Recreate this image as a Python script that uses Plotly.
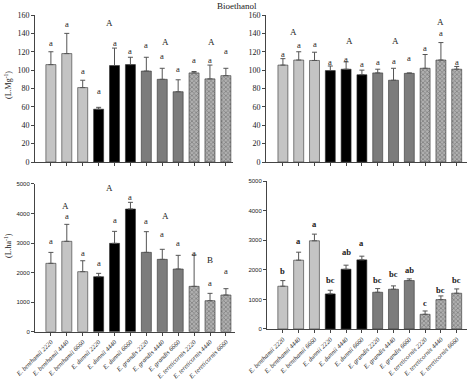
import plotly.graph_objects as go

categories = ["E. benthamii 2220", "E. benthamii 4440", "E. benthamii 6660",
              "E. dunnii 2220", "E. dunnii 4440", "E. dunnii 6660",
              "E. grandis 2220", "E. grandis 4440", "E. grandis 6660",
              "E. tereticornis 2220", "E. tereticornis 4440", "E. tereticornis 6660"]

# Top-left: L.Mg-1
tl_vals = [106, 118, 81, 57.5, 105, 106, 99, 90, 76.5, 97, 90.5, 94]
tl_err = [14, 22, 8, 2, 19, 8, 15, 12, 13, 1.5, 15, 8]
tl_letters = ["a"] * 12
tl_letter_y = [129, 150, 99, 77, 130, 121, 127, 115, 101, 111, 111, 121]
tl_groups = ["A", "A", "A", "A"]
tl_group_x = [0.9, 3.7, 7.2, 10.1]
tl_group_y = [161, 151, 131, 131]

# Top-right: L.Mg-1
tr_vals = [105.5, 111, 110.5, 99.5, 101, 95, 97, 89, 96.5, 102, 111, 101]
tr_err = [7, 9, 9, 5, 8, 5, 4, 13, 0.5, 15, 19, 3]
tr_letters = ["a"] * 12
tr_letter_y = [118, 127, 128, 109, 112, 107, 109, 110, 113, 124, 140, 109]
tr_groups = ["A", "A", "A", "A"]
tr_group_x = [0.7, 4.2, 7.1, 10.0]
tr_group_y = [142, 132, 132, 152]

# Bottom-left: L.ha-1
bl_vals = [2314, 3059, 2032, 1862, 2991, 4153, 2686, 2449, 2122, 1535, 1050, 1242]
bl_err = [370, 575, 370, 113, 406, 226, 700, 340, 463, 1061, 248, 214]
bl_letters = ["a"] * 12
bl_letter_y = [3070, 3916, 2675, 2314, 3781, 4549, 3747, 3296, 2991, 2675, 1637, 2065]
bl_groups = ["A", "A", "A", "B"]
bl_group_x = [0.9, 3.7, 7.2, 10.0]
bl_group_y = [4255, 4876, 3916, 2415]

# Bottom-right: L.ha-1
br_vals = [1445, 2325, 2980, 1185, 2020, 2336, 1241, 1343, 1637, 497, 993, 1208]
br_err = [190, 270, 225, 124, 136, 124, 125, 113, 56, 112, 124, 146]
br_letters = ["b", "a", "a", "bc", "ab", "a", "bc", "bc", "ab", "c", "bc", "bc"]
br_letter_y = [1975, 2980, 3544, 1659, 2596, 2900, 1659, 1851, 1998, 869, 1320, 1659]

top_ticks = [0, 20, 40, 60, 80, 100, 120, 140, 160]
bottom_ticks = [0, 1000, 2000, 3000, 4000, 5000]

fills = ["#c4c4c4"] * 3 + ["#000000"] * 3 + ["#7c7c7c"] * 3 + ["#b0b0b0"] * 3
patterns = [""] * 9 + ["x"] * 3

SERIF = "Liberation Serif"
SANS = "Liberation Sans"

fig = go.Figure()

panels = [
    ("x", "y", tl_vals, tl_err),
    ("x2", "y2", tr_vals, tr_err),
    ("x3", "y3", bl_vals, bl_err),
    ("x4", "y4", br_vals, br_err),
]
idx = list(range(len(categories)))
for xa, ya, vals, err in panels:
    fig.add_trace(go.Bar(
        x=idx, y=vals, xaxis=xa, yaxis=ya,
        marker=dict(color=fills, line=dict(color="#333333", width=0.6),
                    pattern=dict(shape=patterns, fgcolor="#4a4a4a", bgcolor="#b4b4b4",
                                 size=3, solidity=0.4)),
        error_y=dict(type="data", array=err, arrayminus=[0] * len(err), symmetric=False,
                     color="#555555", thickness=1, width=2.5),
        showlegend=False, hoverinfo="skip",
    ))

def xaxis(domain, rng, anchor, labels):
    d = dict(domain=domain, range=rng, anchor=anchor, showgrid=False, zeroline=False,
             showline=True, linecolor="#444444", linewidth=1, automargin=False,
             ticks="outside", ticklen=3, tickcolor="#444444",
             tickvals=idx, fixedrange=True)
    if labels:
        d.update(ticktext=["<i>" + c + "</i>" for c in categories], tickangle=-45,
                 tickfont=dict(family=SERIF, size=6.5, color="#222222"))
    else:
        d.update(showticklabels=False)
    return d

def yaxis(domain, rng, anchor, ticks, fsize, family):
    return dict(domain=domain, range=rng, anchor=anchor, showgrid=False, zeroline=False,
                showline=True, linecolor="#444444", linewidth=1, automargin=False,
                ticks="outside", ticklen=3, tickcolor="#444444",
                tickvals=ticks, tickfont=dict(family=family, size=fsize, color="#222222"),
                fixedrange=True)

fig.update_layout(
    width=474, height=381, autosize=False,
    margin=dict(l=0, r=0, t=0, b=0, pad=0),
    paper_bgcolor="white", plot_bgcolor="white",
    bargap=0.37,
    xaxis=xaxis([0.0738, 0.4916], [-1.0, 11.45], "y", False),
    yaxis=yaxis([0.5748, 0.9606], [0, 160], "x", top_ticks, 8, SERIF),
    xaxis2=xaxis([0.5612, 0.9852], [-1.07, 11.65], "y2", False),
    yaxis2=yaxis([0.5748, 0.9606], [0, 160], "x2", top_ticks, 8, SERIF),
    xaxis3=xaxis([0.0738, 0.4958], [-1.0, 11.57], "y3", True),
    yaxis3=yaxis([0.1294, 0.5171], [0, 5000], "x3", bottom_ticks, 6, SANS),
    xaxis4=xaxis([0.5633, 0.9852], [-1.0, 11.65], "y4", True),
    yaxis4=yaxis([0.1365, 0.5249], [0, 5000], "x4", bottom_ticks, 6, SANS),
)

ann = []
def add_letters(xref, yref, ys, texts, size, bold=False, family=SERIF):
    for i, (yv, t) in enumerate(zip(ys, texts)):
        ann.append(dict(x=i, y=yv, xref=xref, yref=yref, showarrow=False,
                        text=("<b>" + t + "</b>") if bold else t,
                        font=dict(family=family, size=size, color="#222222"),
                        yanchor="middle"))

def add_groups(xref, yref, xs, ys, texts):
    for xv, yv, t in zip(xs, ys, texts):
        ann.append(dict(x=xv, y=yv, xref=xref, yref=yref, showarrow=False, text=t,
                        font=dict(family=SERIF, size=9, color="#222222"), yanchor="middle"))

add_letters("x", "y", tl_letter_y, tl_letters, 8.5)
add_groups("x", "y", tl_group_x, tl_group_y, tl_groups)
add_letters("x2", "y2", tr_letter_y, tr_letters, 8.5)
add_groups("x2", "y2", tr_group_x, tr_group_y, tr_groups)
add_letters("x3", "y3", bl_letter_y, bl_letters, 8.5)
add_groups("x3", "y3", bl_group_x, bl_group_y, bl_groups)
add_letters("x4", "y4", br_letter_y, br_letters, 8.5, bold=True)

ann.append(dict(x=0.5, y=1 - 6 / 381, xref="paper", yref="paper", showarrow=False,
                text="Bioethanol", font=dict(family=SERIF, size=9, color="#222222"),
                xanchor="center", yanchor="middle"))
ann.append(dict(x=8 / 474, y=1 - 85 / 381, xref="paper", yref="paper", showarrow=False,
                text="(L.Mg<sup>-1</sup>)", textangle=-90,
                font=dict(family=SERIF, size=8, color="#222222"),
                xanchor="center", yanchor="middle"))
ann.append(dict(x=8 / 474, y=1 - 245 / 381, xref="paper", yref="paper", showarrow=False,
                text="(L.ha<sup>-1</sup>)", textangle=-90,
                font=dict(family=SERIF, size=8, color="#222222"),
                xanchor="center", yanchor="middle"))
fig.update_layout(annotations=ann)

fig.write_html("out.html", config={"responsive": False, "displayModeBar": False},
               post_script="document.body.style.margin='0px';document.body.style.overflow='hidden';")
